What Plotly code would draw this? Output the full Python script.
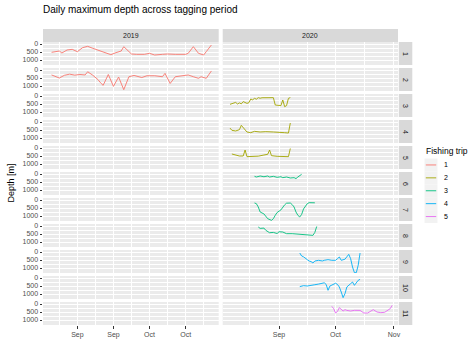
import plotly.graph_objects as go

# ---------------- data ----------------
TITLE = "Daily maximum depth across tagging period"
Y_TITLE = "Depth [m]"
LEGEND_TITLE = "Fishing trip"

years = ["2019", "2020"]
tags = ["1", "2", "3", "4", "5", "6", "7", "8", "9", "10", "11"]
tag_year = ["2019", "2019", "2020", "2020", "2020", "2020", "2020", "2020", "2020", "2020", "2020"]
tag_trip = ["1", "1", "2", "2", "2", "3", "3", "3", "4", "4", "5"]
trips = ["1", "2", "3", "4", "5"]
trip_colors = ["#F8766D", "#A3A500", "#00BF7D", "#00B0F6", "#E76BF3"]

depth_ticks = [0, 500, 1000]
depth_tick_labels = ["0", "500", "1000"]
depth_minor = [250, 750, 1250]
depth_range = [1312, -125]

x_range_2019 = ["2019-08-25 16:00", "2019-11-01 20:00"]
x_ticks_2019 = ["2019-09-08", "2019-09-22", "2019-10-06", "2019-10-20"]
x_labels_2019 = ["Sep", "Sep", "Oct", "Oct"]
x_minor_2019 = ["2019-09-01", "2019-09-15", "2019-09-29", "2019-10-13", "2019-10-27"]

x_range_2020 = ["2020-08-02 03:00", "2020-11-03 03:00"]
x_ticks_2020 = ["2020-09-01", "2020-10-01", "2020-11-01"]
x_labels_2020 = ["Sep", "Oct", "Nov"]
x_minor_2020 = ["2020-08-16 12:00", "2020-09-16", "2020-10-16 12:00"]

tag1_dates = ["2019-08-29", "2019-08-31", "2019-09-01", "2019-09-02", "2019-09-04", "2019-09-06",
              "2019-09-08", "2019-09-10", "2019-09-12", "2019-09-14", "2019-09-16", "2019-09-18",
              "2019-09-20", "2019-09-21", "2019-09-23", "2019-09-25", "2019-09-26", "2019-09-28",
              "2019-09-29", "2019-10-01", "2019-10-04", "2019-10-06", "2019-10-08", "2019-10-11",
              "2019-10-13", "2019-10-16", "2019-10-18", "2019-10-20", "2019-10-21", "2019-10-23",
              "2019-10-25", "2019-10-27", "2019-10-28", "2019-10-29", "2019-10-30"]
tag1_depth = [520, 480, 440, 560, 375, 333, 480, 230, 145, 270, 375, 480, 583, 667, 540, 440, 167, 480,
              625, 646, 646, 583, 688, 646, 625, 646, 667, 646, 583, 167, 583, 688, 480, 270, 62]

tag2_dates = ["2019-08-29", "2019-08-31", "2019-09-01", "2019-09-03", "2019-09-05", "2019-09-07",
              "2019-09-09", "2019-09-11", "2019-09-12", "2019-09-14", "2019-09-16", "2019-09-17",
              "2019-09-18", "2019-09-20", "2019-09-22", "2019-09-24", "2019-09-26", "2019-09-28",
              "2019-09-30", "2019-10-03", "2019-10-05", "2019-10-08", "2019-10-11", "2019-10-12",
              "2019-10-14", "2019-10-16", "2019-10-18", "2019-10-21", "2019-10-23", "2019-10-25",
              "2019-10-26", "2019-10-28", "2019-10-30"]
tag2_depth = [310, 440, 500, 330, 260, 320, 280, 310, 110, 330, 600, 800, 960, 280, 1020, 440, 1230, 420,
              340, 470, 360, 360, 420, 210, 840, 420, 360, 310, 420, 520, 420, 520, 60]

tag3_dates = ["2020-08-06", "2020-08-08", "2020-08-09", "2020-08-10", "2020-08-11", "2020-08-12",
              "2020-08-13", "2020-08-15", "2020-08-16", "2020-08-17", "2020-08-18", "2020-08-19",
              "2020-08-20", "2020-08-21", "2020-08-22", "2020-08-23", "2020-08-25", "2020-08-26",
              "2020-08-28", "2020-08-29", "2020-08-30", "2020-08-31", "2020-09-01", "2020-09-02",
              "2020-09-03", "2020-09-04", "2020-09-05", "2020-09-06", "2020-09-07"]
tag3_depth = [520, 470, 400, 500, 430, 490, 350, 460, 420, 190, 240, 146, 200, 104, 140, 110, 120, 104,
              104, 104, 562, 560, 600, 600, 250, 667, 600, 146, 100]

tag4_dates = ["2020-08-06", "2020-08-07", "2020-08-09", "2020-08-11", "2020-08-12", "2020-08-14",
              "2020-08-15", "2020-08-17", "2020-08-19", "2020-08-22", "2020-08-25", "2020-08-29",
              "2020-09-01", "2020-09-04", "2020-09-06", "2020-09-07"]
tag4_depth = [380, 520, 560, 480, 208, 520, 625, 667, 583, 625, 604, 625, 667, 667, 690, 62]

tag5_dates = ["2020-08-07", "2020-08-09", "2020-08-11", "2020-08-13", "2020-08-14", "2020-08-15",
              "2020-08-18", "2020-08-21", "2020-08-24", "2020-08-26", "2020-08-27", "2020-08-28",
              "2020-08-31", "2020-09-03", "2020-09-06", "2020-09-07"]
tag5_depth = [375, 437, 500, 500, 125, 541, 520, 510, 437, 396, 125, 479, 520, 530, 541, 30]

tag6_dates = ["2020-08-19", "2020-08-20", "2020-08-22", "2020-08-24", "2020-08-26", "2020-08-27",
              "2020-08-29", "2020-08-31", "2020-09-02", "2020-09-03", "2020-09-05", "2020-09-07",
              "2020-09-09", "2020-09-10", "2020-09-11", "2020-09-12", "2020-09-13"]
tag6_depth = [146, 187, 125, 170, 125, 187, 146, 208, 170, 230, 187, 250, 230, 290, 187, 83, 20]

tag7_dates = ["2020-08-19", "2020-08-20", "2020-08-21", "2020-08-22", "2020-08-24", "2020-08-25",
              "2020-08-26", "2020-08-28", "2020-08-29", "2020-08-30", "2020-08-31", "2020-09-02",
              "2020-09-03", "2020-09-04", "2020-09-05", "2020-09-07", "2020-09-08", "2020-09-09",
              "2020-09-10", "2020-09-11", "2020-09-12", "2020-09-13", "2020-09-14", "2020-09-16",
              "2020-09-17", "2020-09-18", "2020-09-20"]
tag7_depth = [187, 230, 437, 750, 870, 1060, 1167, 1270, 1167, 958, 780, 620, 437, 300, 200, 190, 290, 437,
              750, 958, 1060, 900, 560, 229, 167, 180, 175]

tag8_dates = ["2020-08-21", "2020-08-22", "2020-08-24", "2020-08-25", "2020-08-27", "2020-08-29",
              "2020-08-31", "2020-09-01", "2020-09-03", "2020-09-05", "2020-09-08", "2020-09-10",
              "2020-09-12", "2020-09-14", "2020-09-16", "2020-09-18", "2020-09-19", "2020-09-20",
              "2020-09-21"]
tag8_depth = [62, 150, 130, 270, 420, 400, 470, 360, 375, 480, 480, 500, 520, 540, 550, 560, 583, 400, 30]

tag9_dates = ["2020-09-12", "2020-09-13", "2020-09-14", "2020-09-15", "2020-09-16", "2020-09-17",
              "2020-09-18", "2020-09-19", "2020-09-20", "2020-09-22", "2020-09-24", "2020-09-25",
              "2020-09-27", "2020-09-29", "2020-10-01", "2020-10-02", "2020-10-03", "2020-10-04",
              "2020-10-06", "2020-10-08", "2020-10-09", "2020-10-10", "2020-10-11", "2020-10-12",
              "2020-10-13", "2020-10-14"]
tag9_depth = [62, 250, 300, 417, 480, 562, 600, 687, 562, 520, 560, 520, 479, 520, 520, 417, 312, 520,
              450, 146, 417, 937, 1292, 1292, 833, 62]

tag10_dates = ["2020-09-12", "2020-09-14", "2020-09-16", "2020-09-18", "2020-09-20", "2020-09-22",
               "2020-09-24", "2020-09-25", "2020-09-26", "2020-09-27", "2020-09-28", "2020-09-30",
               "2020-10-01", "2020-10-02", "2020-10-03", "2020-10-04", "2020-10-05", "2020-10-06",
               "2020-10-07", "2020-10-09", "2020-10-10", "2020-10-11", "2020-10-12", "2020-10-13",
               "2020-10-14"]
tag10_depth = [540, 480, 500, 440, 420, 380, 330, 300, 400, 770, 500, 354, 330, 400, 562, 875, 1229, 979,
               560, 354, 250, 458, 300, 146, 83]

tag11_dates = ["2020-09-29", "2020-09-30", "2020-10-01", "2020-10-02", "2020-10-03", "2020-10-05",
               "2020-10-06", "2020-10-07", "2020-10-09", "2020-10-11", "2020-10-14", "2020-10-16",
               "2020-10-18", "2020-10-21", "2020-10-23", "2020-10-25", "2020-10-27", "2020-10-29",
               "2020-10-30", "2020-10-31"]
tag11_depth = [146, 292, 562, 470, 229, 437, 354, 400, 437, 396, 400, 562, 562, 354, 500, 541, 520, 396,
               292, 83]

tag_dates = [tag1_dates, tag2_dates, tag3_dates, tag4_dates, tag5_dates, tag6_dates,
             tag7_dates, tag8_dates, tag9_dates, tag10_dates, tag11_dates]
tag_depths = [tag1_depth, tag2_depth, tag3_depth, tag4_depth, tag5_depth, tag6_depth,
              tag7_depth, tag8_depth, tag9_depth, tag10_depth, tag11_depth]

# ---------------- geometry / style ----------------
FIG_W, FIG_H = 474, 351
M_L, M_R, M_T, M_B = 43, 76, 42, 26
PW = FIG_W - M_L - M_R
PH = FIG_H - M_T - M_B
ROW_PITCH, ROW_H = 26, 23
COL_PX = [(43, 218.7), (222.7, 398)]
FONT = "Liberation Sans, Arial, sans-serif"
PANEL_BG = "#EBEBEB"
STRIP_BG = "#D9D9D9"
TICK_TXT = "#4D4D4D"


def fx(px):
    return (px - M_L) / PW


def fy(py):
    return (FIG_H - M_B - py) / PH


fig = go.Figure()
layout = dict(
    template="none",
    width=FIG_W, height=FIG_H,
    margin=dict(l=M_L, r=M_R, t=M_T, b=M_B, pad=0),
    paper_bgcolor="white", plot_bgcolor=PANEL_BG,
    showlegend=False,
    font=dict(family=FONT, size=7, color=TICK_TXT),
)

x_cfg = {
    "2019": (x_range_2019, x_ticks_2019, x_labels_2019, x_minor_2019),
    "2020": (x_range_2020, x_ticks_2020, x_labels_2020, x_minor_2020),
}

n_rows = len(tags)
shapes = []
annotations = []

for r in range(n_rows):
    top = M_T + ROW_PITCH * r
    ydom = [fy(top + ROW_H), fy(top)]
    for c, yr in enumerate(years):
        k = r * 2 + c + 1
        xs = "" if k == 1 else str(k)
        rng, tv, tt, mv = x_cfg[yr]
        bottom = r == n_rows - 1
        layout["xaxis" + xs] = dict(
            domain=[fx(COL_PX[c][0]), fx(COL_PX[c][1])], anchor="y" + xs,
            type="date", range=rng, tickmode="array", tickvals=tv, ticktext=tt,
            showticklabels=bottom, ticks="outside" if bottom else "", ticklen=2.5,
            tickwidth=0.8, tickcolor="#333333", tickfont=dict(size=7, color=TICK_TXT),
            showgrid=True, gridcolor="white", gridwidth=1,
            minor=dict(tickmode="array", tickvals=mv, showgrid=True,
                       gridcolor="white", gridwidth=0.5),
            zeroline=False, showline=False, fixedrange=True,
        )
        left = c == 0
        layout["yaxis" + xs] = dict(
            domain=ydom, anchor="x" + xs, range=depth_range,
            tickmode="array", tickvals=depth_ticks, ticktext=depth_tick_labels,
            showticklabels=left, ticks="outside" if left else "", ticklen=2.5,
            tickwidth=0.8, tickcolor="#333333", tickfont=dict(size=7, color=TICK_TXT),
            showgrid=True, gridcolor="white", gridwidth=1,
            minor=dict(tickmode="array", tickvals=depth_minor, showgrid=True,
                       gridcolor="white", gridwidth=0.5),
            zeroline=False, showline=False, fixedrange=True,
        )
        if tag_year[r] == yr:
            color = trip_colors[trips.index(tag_trip[r])]
            fig.add_trace(go.Scatter(
                x=tag_dates[r], y=tag_depths[r], mode="lines",
                line=dict(color=color, width=0.9),
                xaxis="x" + xs, yaxis="y" + xs, hoverinfo="skip", showlegend=False,
            ))
        else:
            # empty panel: a trace with no points so the facet is still drawn
            fig.add_trace(go.Scatter(
                x=[None], y=[None], mode="lines",
                xaxis="x" + xs, yaxis="y" + xs, hoverinfo="skip", showlegend=False,
            ))
    # right strip
    shapes.append(dict(type="rect", xref="paper", yref="paper",
                       x0=fx(398.8), x1=fx(412.3), y0=ydom[0], y1=ydom[1],
                       fillcolor=STRIP_BG, line=dict(width=0), layer="below"))
    annotations.append(dict(xref="paper", yref="paper", x=fx(405.5), y=(ydom[0] + ydom[1]) / 2,
                            text=tags[r], showarrow=False, textangle=90,
                            font=dict(size=7, color="#1A1A1A"),
                            xanchor="center", yanchor="middle"))

# top strips
for c, yr in enumerate(years):
    shapes.append(dict(type="rect", xref="paper", yref="paper",
                       x0=fx(COL_PX[c][0]), x1=fx(COL_PX[c][1]), y0=fy(M_T), y1=fy(29),
                       fillcolor=STRIP_BG, line=dict(width=0), layer="below"))
    annotations.append(dict(xref="paper", yref="paper",
                            x=fx((COL_PX[c][0] + COL_PX[c][1]) / 2), y=fy(35.5),
                            text=yr, showarrow=False, font=dict(size=7, color="#1A1A1A"),
                            xanchor="center", yanchor="middle"))

# y-axis title
annotations.append(dict(xref="paper", yref="paper", x=fx(10), y=fy((M_T + FIG_H - M_B) / 2),
                        text=Y_TITLE, showarrow=False, textangle=-90,
                        font=dict(size=9, color="black"), xanchor="center", yanchor="middle"))

# legend (built from trips / trip_colors)
annotations.append(dict(xref="paper", yref="paper", x=fx(424.5), y=fy(151),
                        text=LEGEND_TITLE, showarrow=False, font=dict(size=8.5, color="black"),
                        xanchor="left", yanchor="middle"))
KEY_TOP, KEY_H = 158.5, 12.9
for i, (t, col) in enumerate(zip(trips, trip_colors)):
    yc = KEY_TOP + KEY_H * (i + 0.5)
    shapes.append(dict(type="rect", xref="paper", yref="paper",
                       x0=fx(424.5), x1=fx(437.5), y0=fy(yc + KEY_H / 2), y1=fy(yc - KEY_H / 2),
                       fillcolor="#F2F2F2", line=dict(width=0), layer="below"))
    shapes.append(dict(type="line", xref="paper", yref="paper",
                       x0=fx(425.8), x1=fx(436.2), y0=fy(yc), y1=fy(yc),
                       line=dict(color=col, width=0.9)))
    annotations.append(dict(xref="paper", yref="paper", x=fx(441.5), y=fy(yc),
                            text=t, showarrow=False, font=dict(size=7, color="black"),
                            xanchor="left", yanchor="middle"))

layout["shapes"] = shapes
layout["annotations"] = annotations
layout["title"] = dict(text=TITLE, x=43 / FIG_W, xanchor="left", xref="container",
                       y=1 - 9.5 / FIG_H, yanchor="middle",
                       font=dict(family=FONT, size=10, color="black"))
fig.update_layout(**layout)
fig.write_html("out.html", config={"displayModeBar": False})
